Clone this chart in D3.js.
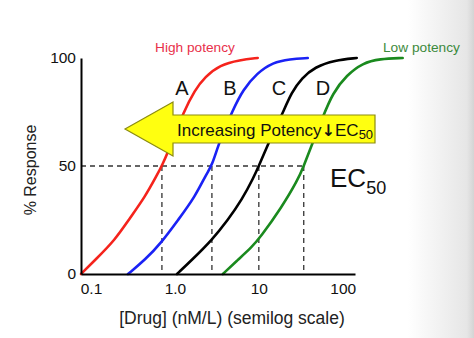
<!DOCTYPE html>
<html>
<head>
<meta charset="utf-8">
<script src="https://cdn.jsdelivr.net/npm/d3@7"></script>
<style>
  html, body { margin: 0; padding: 0; background: #fff; }
  svg { display: block; font-family: "Liberation Sans", Arial, sans-serif; }
</style>
</head>
<body>
<div id="chart"></div>
<script>
// tick values and labels
var xTicks = [0.1, 1, 10, 100];
var xTickLabels = ['0.1', '1.0', '10', '100'];
var yTicks = [0, 50, 100];

// curve names, EC50 and points (conc in nM/L, response in %)
var drugNames = ['A', 'B', 'C', 'D'];
var ec50 = [0.7, 2.76, 10, 34.3];

var concA = [0.076, 0.112, 0.193, 0.291, 0.439, 0.611, 0.70, 0.947, 1.25, 1.73, 2.28, 3.43, 5.94, 9.7];
var respA = [0, 6.5, 15.7, 25.9, 35.6, 45.8, 50, 62, 74.5, 85.2, 91.2, 96.8, 99.1, 100];

var concB = [0.276, 0.44, 0.70, 1.09, 1.73, 2.40, 2.76, 3.43, 4.9, 6.45, 9.5, 14.7, 23.4, 38.3];
var respB = [0, 6.5, 14.8, 25, 35.6, 46.8, 50, 62, 75.9, 85.2, 93, 98, 99.5, 100];

var concC = [1.06, 1.59, 2.76, 4.27, 6.28, 8.72, 10, 13.5, 18.8, 24.7, 32.5, 46.4, 80.3, 146.8];
var respC = [0, 6.5, 15.7, 25, 34.3, 44.9, 50, 62, 73.6, 84.3, 90.7, 95.8, 99, 100];

var concD = [3.73, 5.62, 8.25, 10.3, 18.8, 29.1, 34.3, 40.5, 57.8, 76, 111.6, 173, 275, 518];
var respD = [0, 6.5, 12.5, 16.7, 31, 43.5, 50, 57.4, 72.7, 83.8, 92.1, 97.7, 99.6, 100];

var xDomain = [0.076, 140];

// styles
var curveColors = ['#f5231c', '#1a22f5', '#000000', '#1a8a1e'];

var W = 474, H = 338;

var svg = d3.select('#chart').append('svg')
    .attr('width', W)
    .attr('height', H);

// slide background, grey fade on the right
var defs = svg.append('defs');
var grad = defs.append('linearGradient').attr('id', 'bg')
    .attr('x1', 0).attr('x2', 1).attr('y1', 0).attr('y2', 0);
grad.append('stop').attr('offset', '0.86').attr('stop-color', '#ffffff');
grad.append('stop').attr('offset', '0.985').attr('stop-color', '#e6e6e6');
grad.append('stop').attr('offset', '1').attr('stop-color', '#d4d4d4');
svg.append('rect').attr('width', W).attr('height', H).attr('fill', 'url(#bg)');

var x = d3.scaleLog().domain(xDomain).range([81, 355]);
var y = d3.scaleLinear().domain([0, 100]).range([274, 58]);

var series = [
  { c: concA, r: respA },
  { c: concB, r: respB },
  { c: concC, r: respC },
  { c: concD, r: respD }
].map(function(s) {
  return s.c.map(function(c, i) { return { c: c, r: s.r[i] }; });
});

// dashed EC50 guides
var maxEc = d3.max(ec50);
svg.append('line')
   .attr('x1', x(xDomain[0])).attr('x2', x(maxEc))
   .attr('y1', y(50)).attr('y2', y(50))
   .attr('stroke', '#333').attr('stroke-width', 1.3)
   .attr('stroke-dasharray', '5,4');

svg.selectAll('.ecline')
   .data(ec50)
   .enter().append('line')
   .attr('class', 'ecline')
   .attr('x1', function(d) { return x(d); })
   .attr('x2', function(d) { return x(d); })
   .attr('y1', y(50)).attr('y2', y(0))
   .attr('stroke', '#333').attr('stroke-width', 1.3)
   .attr('stroke-dasharray', '5,4');

// dose-response curves (smoothed through the read points)
var line = d3.line()
    .x(function(d) { return x(d.c); })
    .y(function(d) { return y(d.r); })
    .curve(d3.curveBasis);

svg.selectAll('.curve')
   .data(series)
   .enter().append('path')
   .attr('class', 'curve')
   .attr('d', line)
   .attr('fill', 'none')
   .attr('stroke', function(d, i) { return curveColors[i]; })
   .attr('stroke-width', 2.6)
   .attr('stroke-linecap', 'round');

// axes
var xAxis = svg.append('g')
    .attr('transform', 'translate(0,' + y(0) + ')')
    .call(d3.axisBottom(x)
      .tickValues(xTicks)
      .tickFormat(function(d, i) { return xTickLabels[i]; })
      .tickSize(0)
      .tickPadding(9));

var yAxis = svg.append('g')
    .attr('transform', 'translate(' + x(xDomain[0]) + ',0)')
    .call(d3.axisLeft(y)
      .tickValues(yTicks)
      .tickSize(0)
      .tickPadding(5));

[xAxis, yAxis].forEach(function(g) {
  g.select('.domain').attr('stroke', '#000').attr('stroke-width', 2);
  g.selectAll('text').attr('font-size', 15.5).attr('fill', '#111')
   .attr('font-family', '"Liberation Sans", Arial, sans-serif');
});

// axis titles
svg.append('text')
   .attr('x', 232).attr('y', 324)
   .attr('text-anchor', 'middle')
   .attr('font-size', 17.5).attr('fill', '#222')
   .text('[Drug] (nM/L) (semilog scale)');

svg.append('text')
   .attr('transform', 'translate(36,170) rotate(-90)')
   .attr('text-anchor', 'middle')
   .attr('font-size', 16).attr('fill', '#222')
   .text('% Response');

// yellow arrow
var p = d3.path();
p.moveTo(125, 129);
p.lineTo(173, 102);
p.lineTo(173, 115);
p.lineTo(375, 115);
p.lineTo(375, 143);
p.lineTo(173, 143);
p.lineTo(173, 156);
p.closePath();
svg.append('path')
   .attr('d', p.toString())
   .attr('fill', '#ffff10')
   .attr('stroke', '#8c8c10')
   .attr('stroke-width', 1.2)
   .attr('stroke-linejoin', 'miter');

var arrowText = svg.append('text')
   .attr('x', 177).attr('y', 136)
   .attr('font-size', 17).attr('fill', '#111');
arrowText.append('tspan').text('Increasing Potency');
arrowText.append('tspan')
   .attr('font-family', '"DejaVu Sans", sans-serif')
   .attr('font-weight', 'bold').attr('font-size', 16).text('\u2193');
arrowText.append('tspan').text('EC');
arrowText.append('tspan').attr('font-size', 13).attr('dy', 3).text('50');

// curve letters
var letterX = [182, 230, 279, 323];
svg.selectAll('.letter')
   .data(drugNames)
   .enter().append('text')
   .attr('class', 'letter')
   .attr('x', function(d, i) { return letterX[i]; })
   .attr('y', 95)
   .attr('text-anchor', 'middle')
   .attr('font-size', 20).attr('fill', '#111')
   .text(function(d) { return d; });

// potency labels
svg.append('text')
   .attr('x', 155).attr('y', 52)
   .attr('font-size', 13.7).attr('fill', '#e8304a')
   .text('High potency');

svg.append('text')
   .attr('x', 383).attr('y', 52)
   .attr('font-size', 13.7).attr('fill', '#3d8a3d')
   .text('Low potency');

// big EC50 label
var ecText = svg.append('text')
   .attr('x', 330).attr('y', 187)
   .attr('font-size', 26).attr('fill', '#111');
ecText.append('tspan').text('EC');
ecText.append('tspan').attr('font-size', 18).attr('dy', 7).text('50');
</script>
</body>
</html>
